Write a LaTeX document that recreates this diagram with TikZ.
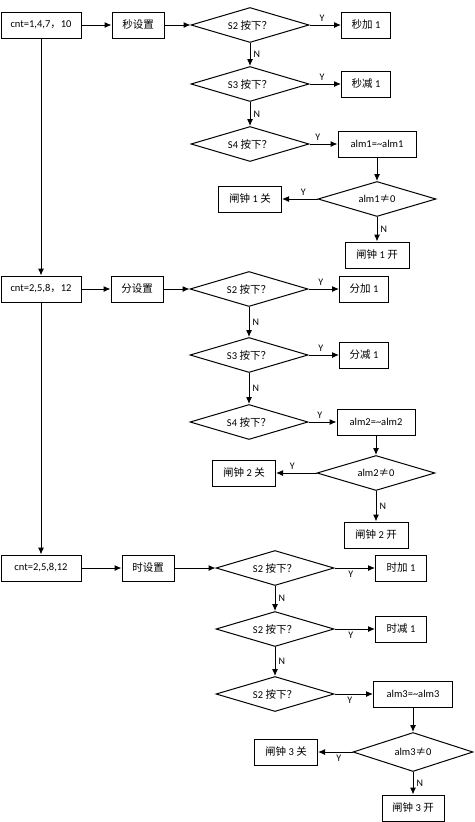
\documentclass[tikz,border=0pt]{standalone}
\usepackage{fontspec}
\setmainfont{Carlito}
\newfontfamily\cjk{Noto Sans CJK SC}
\usetikzlibrary{shapes.geometric, arrows.meta}
\tikzstyle{std} = [rectangle, minimum height=26pt, inner sep=2pt, text centered, draw=black, line width=1pt, font=\fontsize{10.5}{12}\selectfont]
\tikzstyle{cond} = [diamond, aspect=3.4, minimum width=118pt, minimum height=35pt, inner sep=0pt, text centered, draw=black, line width=1pt, font=\fontsize{10.5}{12}\selectfont]
\tikzstyle{arrow} = [-{Latex[length=7pt,width=6pt]}, line width=1pt]
\tikzstyle{yn} = [font=\fontsize{10}{11}\selectfont, inner sep=3pt]

\begin{document}
\begin{tikzpicture}[x=1pt, y=-1pt]
    \useasboundingbox (0,0) rectangle (474,822);

    \node (cnt1) [std, minimum width=80pt] at (41,25) {cnt=1,4,7{\cjk ，}10};
    \node (set1) [std, minimum width=52pt] at (138,25) {\cjk 秒设置};
    \node (d1a)  [cond] at (250,25)  {S2 {\cjk 按下？}};
    \node (add1) [std, minimum width=49pt] at (366,25) {{\cjk 秒加} 1};
    \node (d1b)  [cond] at (250,84)  {S3 {\cjk 按下？}};
    \node (sub1) [std, minimum width=49pt] at (366,84) {{\cjk 秒减} 1};
    \node (d1c)  [cond] at (250,144) {S4 {\cjk 按下？}};
    \node (alm1) [std, minimum width=78pt] at (377,144) {alm1=\textasciitilde alm1};
    \node (ne1)  [cond] at (377,199) {alm1{\cjk ≠}0};
    \node (off1) [std, minimum width=63pt] at (250,199) {{\cjk 闸钟} 1 {\cjk 关}};
    \node (on1)  [std, minimum width=64pt] at (377,255) {{\cjk 闸钟} 1 {\cjk 开}};

    \node (cnt2) [std, minimum width=80pt] at (41,289) {cnt=2,5,8{\cjk ，}12};
    \node (set2) [std, minimum width=52pt] at (137,289) {\cjk 分设置};
    \node (d2a)  [cond] at (249,289) {S2 {\cjk 按下？}};
    \node (add2) [std, minimum width=49pt] at (364,289) {{\cjk 分加} 1};
    \node (d2b)  [cond] at (249,355) {S3 {\cjk 按下？}};
    \node (sub2) [std, minimum width=49pt] at (364,355) {{\cjk 分减} 1};
    \node (d2c)  [cond] at (249,422) {S4 {\cjk 按下？}};
    \node (alm2) [std, minimum width=78pt] at (376,422) {alm2=\textasciitilde alm2};
    \node (ne2)  [cond] at (376,473) {alm2{\cjk ≠}0};
    \node (off2) [std, minimum width=63pt] at (244,473) {{\cjk 闸钟} 2 {\cjk 关}};
    \node (on2)  [std, minimum width=64pt] at (376,535) {{\cjk 闸钟} 2 {\cjk 开}};

    \node (cnt3) [std, minimum width=80pt] at (41,568) {cnt=2,5,8,12};
    \node (set3) [std, minimum width=52pt] at (148,568) {\cjk 时设置};
    \node (d3a)  [cond] at (275,568) {S2 {\cjk 按下？}};
    \node (add3) [std, minimum width=51pt] at (401,568) {{\cjk 时加} 1};
    \node (d3b)  [cond] at (275,629) {S2 {\cjk 按下？}};
    \node (sub3) [std, minimum width=51pt] at (401,629) {{\cjk 时减} 1};
    \node (d3c)  [cond] at (275,694) {S2 {\cjk 按下？}};
    \node (alm3) [std, minimum width=79pt] at (413,694) {alm3=\textasciitilde alm3};
    \node (ne3)  [cond, minimum width=120pt, minimum height=39pt] at (413,752) {alm3{\cjk ≠}0};
    \node (off3) [std, minimum width=63pt] at (286,752) {{\cjk 闸钟} 3 {\cjk 关}};
    \node (on3)  [std, minimum width=62pt] at (413,808) {{\cjk 闸钟} 3 {\cjk 开}};

    \draw [arrow] (cnt1) -- (set1);
    \draw [arrow] (set1) -- (d1a);
    \draw [arrow] (d1a) -- node[yn, above, pos=0.4] {Y} (add1);
    \draw [arrow] (d1a) -- node[yn, right] {N} (d1b);
    \draw [arrow] (d1b) -- node[yn, above, pos=0.4] {Y} (sub1);
    \draw [arrow] (d1b) -- node[yn, right] {N} (d1c);
    \draw [arrow] (d1c) -- node[yn, above, pos=0.3] {Y} (alm1);
    \draw [arrow] (alm1) -- (ne1);
    \draw [arrow] (ne1) -- node[yn, above, pos=0.4] {Y} (off1);
    \draw [arrow] (ne1) -- node[yn, right] {N} (on1);
    \draw [arrow] (cnt1) -- (cnt2);

    \draw [arrow] (cnt2) -- (set2);
    \draw [arrow] (set2) -- (d2a);
    \draw [arrow] (d2a) -- node[yn, above, pos=0.4] {Y} (add2);
    \draw [arrow] (d2a) -- node[yn, right] {N} (d2b);
    \draw [arrow] (d2b) -- node[yn, above, pos=0.4] {Y} (sub2);
    \draw [arrow] (d2b) -- node[yn, right] {N} (d2c);
    \draw [arrow] (d2c) -- node[yn, above, pos=0.4] {Y} (alm2);
    \draw [arrow] (alm2) -- (ne2);
    \draw [arrow] (ne2) -- node[yn, above, pos=0.6] {Y} (off2);
    \draw [arrow] (ne2) -- node[yn, right] {N} (on2);
    \draw [arrow] (cnt2) -- (cnt3);

    \draw [arrow] (cnt3) -- (set3);
    \draw [arrow] (set3) -- (d3a);
    \draw [arrow] (d3a) -- node[yn, below, pos=0.4] {Y} (add3);
    \draw [arrow] (d3a) -- node[yn, right] {N} (d3b);
    \draw [arrow] (d3b) -- node[yn, below, pos=0.4] {Y} (sub3);
    \draw [arrow] (d3b) -- node[yn, right] {N} (d3c);
    \draw [arrow] (d3c) -- node[yn, below, pos=0.4] {Y} (alm3);
    \draw [arrow] (alm3) -- (ne3);
    \draw [arrow] (ne3) -- node[yn, below, pos=0.4] {Y} (off3);
    \draw [arrow] (ne3) -- node[yn, right] {N} (on3);
\end{tikzpicture}
\end{document}
